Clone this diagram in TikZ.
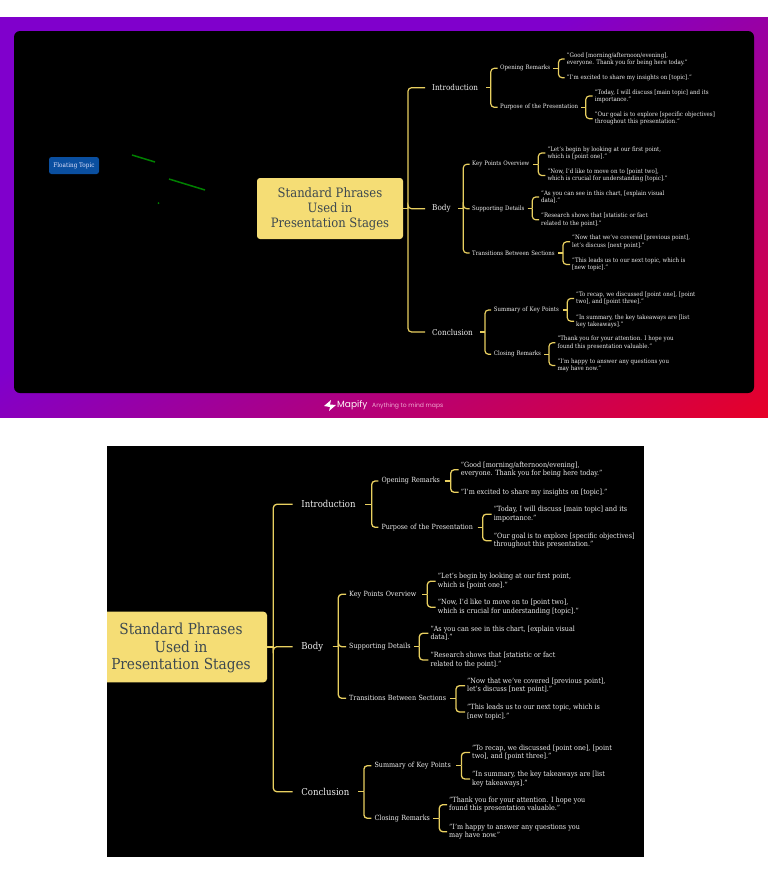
\documentclass[tikz,border=0pt]{standalone}
\usepackage{fontspec}
\setmainfont{DejaVu Serif Condensed}
\newfontfamily\brandfont{Poppins}
\definecolor{pp}{RGB}{128,0,204}
\definecolor{rr}{RGB}{255,0,0}
\definecolor{rootfill}{RGB}{245,221,117}
\definecolor{roottext}{RGB}{60,72,80}
\definecolor{linkc}{RGB}{232,207,96}
\definecolor{labc}{RGB}{240,240,240}
\definecolor{tagc}{RGB}{240,170,210}
\definecolor{floatfill}{RGB}{10,79,160}
\definecolor{greenl}{RGB}{0,128,0}
\pgfdeclareverticalshading{bann}{100bp}{color(0bp)=(pp); color(47.8bp)=(pp); color(65bp)=(rr); color(100bp)=(rr)}
\newcommand\fs[2]{\fontsize{#1pt}{#2pt}\selectfont}
\tikzset{
 rootbox/.style={fill=rootfill,rounded corners=3pt,inner sep=0pt},
 rootA/.style={text=roottext,align=center,inner sep=0pt,font=\fs{12.9}{15}},
 rootB/.style={text=roottext,align=center,inner sep=0pt,font=\fs{15.2}{17.6}},
 tierA/.style={text=labc,inner ysep=1pt,inner xsep=7pt,align=left,font=\fs{8.05}{9}},
 tierB/.style={text=labc,inner ysep=1pt,inner xsep=8.5pt,align=left,font=\fs{9.5}{11}},
 subA/.style={text=labc,inner ysep=1pt,inner xsep=2.5pt,align=left,font=\fs{6.05}{7}},
 subB/.style={text=labc,inner ysep=1pt,inner xsep=3pt,align=left,font=\fs{7.1}{8}},
 leafA/.style={text=labc,anchor=west,inner ysep=1pt,inner xsep=2pt,align=left,font=\fs{6.1}{7.1}},
 leafB/.style={text=labc,anchor=west,inner ysep=1pt,inner xsep=2pt,align=left,font=\fs{7.15}{8.4}},
 linkA/.style={draw=linkc,line width=1.2pt},
 linkB/.style={draw=linkc,line width=1.3pt},
}
% branch label with a fixed span: {name}{style}{x}{y}{width}{text}
\newcommand\brn[6]{\node[#2,anchor=west,text width=#5pt] (#1) at (#3,#4) {\mbox{#6}};}
% connector: {style}{parent}{child}{spine}
\newcommand\lnk[4]{\draw[#1] (#2.east) -- (#4 |- #2.east);
 \draw[#1,rounded corners=3.5pt] (#4 |- #2.east) -- (#4 |- #3.west) -- (#3.west);}
\begin{document}
\begin{tikzpicture}[x=1pt,y=-1pt]
\useasboundingbox (0,0) rectangle (768,870);
\fill[white] (0,0) rectangle (768,870);
% banner
\begin{scope}
\clip (0,17) rectangle (768,417);
\shade[shading=bann,shading angle=-148] (384-800,217-800) rectangle (384+800,217+800);
\end{scope}
\fill[black,rounded corners=6pt] (14,31) rectangle (754,393);
% brand strip
\fill[white] (324,406) -- (331,400) -- (330,404.5) -- (336,405) -- (329,411) -- (330,407) -- cycle;
\node[text=white!90!pink,anchor=west,inner sep=0pt,font=\brandfont\fs{9}{10}] (brand) at (337,405.5) {Mapify};
\node[text=tagc,anchor=west,inner sep=0pt,font=\brandfont\fs{6.05}{7}] (tag) at (372,405.8) {Anything to mind maps};
% floating
\node[fill=floatfill,text=white!90!blue,rounded corners=2.5pt,minimum width=50pt,minimum height=17pt,inner sep=0pt,font=\fs{6.3}{7}] (float) at (74,165.5) {Floating Topic};
\draw[greenl,line width=1.5pt] (132,155) -- (155,162);
\draw[greenl,line width=1.5pt] (169,179) -- (205,190);
\fill[greenl] (158.5,203) circle (1pt);
% --- upper map
\node[rootbox,minimum width=146pt,minimum height=61pt] (ar) at (330,208.5) {};
\node[rootA] (art) at (330,209.5) {Standard Phrases\\Used in\\Presentation Stages};
\coordinate (as0) at (408,0);\coordinate (as1) at (490.8,0);\coordinate (as2) at (558.5,0);\coordinate (as3) at (585.8,0);
\coordinate (as4) at (463.3,0);\coordinate (as5) at (538.3,0);\coordinate (as6) at (532.3,0);\coordinate (as7) at (563,0);
\coordinate (as8) at (485,0);\coordinate (as9) at (567.3,0);\coordinate (as10) at (549,0);
\brn{aI}{tierA}{425}{87.7}{47}{Introduction}
\brn{aB}{tierA}{425}{208.7}{19}{Body}
\brn{aC}{tierA}{425}{332}{41}{Conclusion}
\brn{aI1}{subA}{497.5}{68.3}{50.5}{Opening Remarks}
\brn{aI2}{subA}{497.5}{107.3}{78.5}{Purpose of the Presentation}
\brn{aB1}{subA}{469.5}{164.3}{58.5}{Key Points Overview}
\brn{aB2}{subA}{469.5}{208.7}{52.8}{Supporting Details}
\brn{aB3}{subA}{469.5}{253}{83.5}{Transitions Between Sections}
\brn{aC1}{subA}{491.2}{310}{66.5}{Summary of Key Points}
\brn{aC2}{subA}{491.2}{354.3}{47.8}{Closing Remarks}
\node[leafA] (aL1) at (564.7,59) {"Good [morning/afternoon/evening],\\everyone. Thank you for being here today."};
\node[leafA] (aL2) at (564.7,77.7) {"I'm excited to share my insights on [topic]."};
\node[leafA] (aL3) at (592.7,96) {"Today, I will discuss [main topic] and its\\importance."};
\node[leafA] (aL4) at (592.7,118.7) {"Our goal is to explore [specific objectives]\\throughout this presentation."};
\node[leafA] (aL5) at (545.3,153) {"Let's begin by looking at our first point,\\which is [point one]."};
\node[leafA] (aL6) at (545.3,175.5) {"Now, I'd like to move on to [point two],\\which is crucial for understanding [topic]."};
\node[leafA] (aL7) at (539,197) {"As you can see in this chart, [explain visual\\data]."};
\node[leafA] (aL8) at (539,219.8) {"Research shows that [statistic or fact\\related to the point]."};
\node[leafA] (aL9) at (570,241.8) {"Now that we've covered [previous point],\\let's discuss [next point]."};
\node[leafA] (aL10) at (570,264.5) {"This leads us to our next topic, which is\\{[}new topic]."};
\node[leafA] (aL11) at (574,298.5) {"To recap, we discussed [point one], [point\\two], and [point three]."};
\node[leafA] (aL12) at (574,321.2) {"In summary, the key takeaways are [list\\key takeaways]."};
\node[leafA] (aL13) at (555.3,342.8) {"Thank you for your attention. I hope you\\found this presentation valuable."};
\node[leafA] (aL14) at (555.3,365.5) {"I'm happy to answer any questions you\\may have now."};
\foreach \c in {aI,aB,aC}{\lnk{linkA}{ar}{\c}{as0}}
\foreach \c in {aI1,aI2}{\lnk{linkA}{aI}{\c}{as1}}
\foreach \c in {aB1,aB2,aB3}{\lnk{linkA}{aB}{\c}{as4}}
\foreach \c in {aC1,aC2}{\lnk{linkA}{aC}{\c}{as8}}
\foreach \c in {aL1,aL2}{\lnk{linkA}{aI1}{\c}{as2}}
\foreach \c in {aL3,aL4}{\lnk{linkA}{aI2}{\c}{as3}}
\foreach \c in {aL5,aL6}{\lnk{linkA}{aB1}{\c}{as5}}
\foreach \c in {aL7,aL8}{\lnk{linkA}{aB2}{\c}{as6}}
\foreach \c in {aL9,aL10}{\lnk{linkA}{aB3}{\c}{as7}}
\foreach \c in {aL11,aL12}{\lnk{linkA}{aC1}{\c}{as9}}
\foreach \c in {aL13,aL14}{\lnk{linkA}{aC2}{\c}{as10}}
% --- lower map
\fill[black] (107,446) rectangle (644,857);
\begin{scope}
\clip (107,600) rectangle (300,700);
\fill[rootfill,rounded corners=3.5pt] (95,611.7) rectangle (267,682.3);
\end{scope}
\node[rootB] (br) at (181,648) {Standard Phrases\\Used in\\Presentation Stages};
\coordinate (bp) at (267,647);
\coordinate (bs0) at (273.3,0);\coordinate (bs1) at (371.7,0);\coordinate (bs2) at (450.7,0);\coordinate (bs3) at (482.7,0);
\coordinate (bs4) at (338.3,0);\coordinate (bs5) at (427.3,0);\coordinate (bs6) at (419.3,0);\coordinate (bs7) at (456,0);
\coordinate (bs8) at (363.9,0);\coordinate (bs9) at (461.4,0);\coordinate (bs10) at (439.3,0);
\brn{bI}{tierB}{292.7}{504.3}{55.3}{Introduction}
\brn{bB}{tierB}{292.7}{646.7}{22.6}{Body}
\brn{bC}{tierB}{292.7}{791.7}{48.3}{Conclusion}
\brn{bI1}{subB}{378.3}{481}{60}{Opening Remarks}
\brn{bI2}{subB}{378.3}{527.3}{93}{Purpose of the Presentation}
\brn{bB1}{subB}{346}{594.3}{69.7}{Key Points Overview}
\brn{bB2}{subB}{346}{646.7}{62}{Supporting Details}
\brn{bB3}{subB}{346}{698.3}{98}{Transitions Between Sections}
\brn{bC1}{subB}{371.4}{765.7}{78.4}{Summary of Key Points}
\brn{bC2}{subB}{371.4}{818.3}{55.6}{Closing Remarks}
\node[leafB] (bL1) at (458.7,469.8) {"Good [morning/afternoon/evening],\\everyone. Thank you for being here today."};
\node[leafB] (bL2) at (458.7,492.3) {"I'm excited to share my insights on [topic]."};
\node[leafB] (bL3) at (491.7,514.2) {"Today, I will discuss [main topic] and its\\importance."};
\node[leafB] (bL4) at (491.7,540.7) {"Our goal is to explore [specific objectives]\\throughout this presentation."};
\node[leafB] (bL5) at (435.7,581.2) {"Let's begin by looking at our first point,\\which is [point one]."};
\node[leafB] (bL6) at (435.7,607.2) {"Now, I'd like to move on to [point two],\\which is crucial for understanding [topic]."};
\node[leafB] (bL7) at (428.3,633.3) {"As you can see in this chart, [explain visual\\data]."};
\node[leafB] (bL8) at (428.3,660) {"Research shows that [statistic or fact\\related to the point]."};
\node[leafB] (bL9) at (465,685.7) {"Now that we've covered [previous point],\\let's discuss [next point]."};
\node[leafB] (bL10) at (465,712) {"This leads us to our next topic, which is\\{[}new topic]."};
\node[leafB] (bL11) at (470,752.5) {"To recap, we discussed [point one], [point\\two], and [point three]."};
\node[leafB] (bL12) at (470,779) {"In summary, the key takeaways are [list\\key takeaways]."};
\node[leafB] (bL13) at (447,804.7) {"Thank you for your attention. I hope you\\found this presentation valuable."};
\node[leafB] (bL14) at (447,831.7) {"I'm happy to answer any questions you\\may have now."};
\foreach \c in {bI,bB,bC}{\lnk{linkB}{bp}{\c}{bs0}}
\foreach \c in {bI1,bI2}{\lnk{linkB}{bI}{\c}{bs1}}
\foreach \c in {bB1,bB2,bB3}{\lnk{linkB}{bB}{\c}{bs4}}
\foreach \c in {bC1,bC2}{\lnk{linkB}{bC}{\c}{bs8}}
\foreach \c in {bL1,bL2}{\lnk{linkB}{bI1}{\c}{bs2}}
\foreach \c in {bL3,bL4}{\lnk{linkB}{bI2}{\c}{bs3}}
\foreach \c in {bL5,bL6}{\lnk{linkB}{bB1}{\c}{bs5}}
\foreach \c in {bL7,bL8}{\lnk{linkB}{bB2}{\c}{bs6}}
\foreach \c in {bL9,bL10}{\lnk{linkB}{bB3}{\c}{bs7}}
\foreach \c in {bL11,bL12}{\lnk{linkB}{bC1}{\c}{bs9}}
\foreach \c in {bL13,bL14}{\lnk{linkB}{bC2}{\c}{bs10}}
\end{tikzpicture}
\end{document}
